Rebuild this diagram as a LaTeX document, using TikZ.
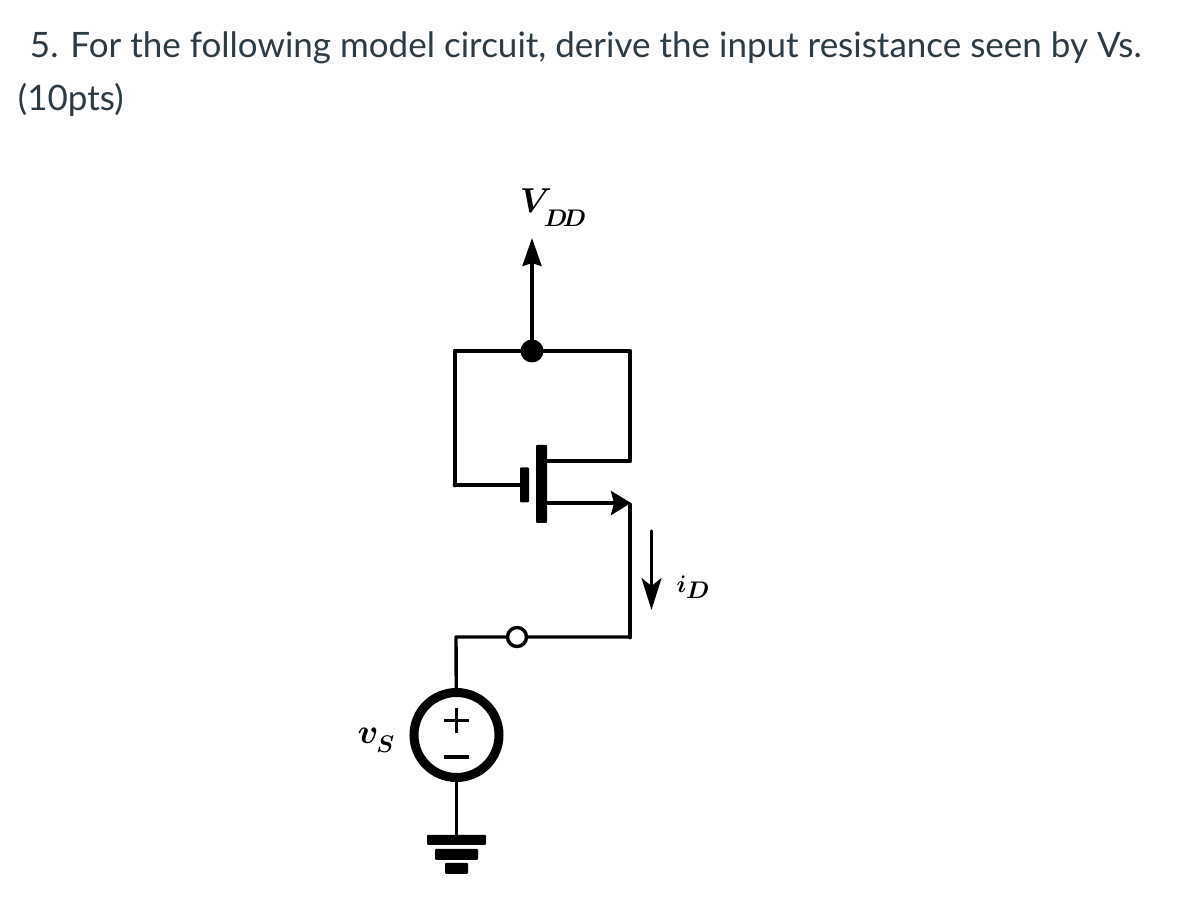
\documentclass[tikz,border=0pt]{standalone}
\usepackage{fontspec}
\setmainfont{Lato}
\usepackage{amsmath}
\usetikzlibrary{arrows.meta}
\definecolor{questioncol}{HTML}{2D3B45}

\begin{document}
\begin{tikzpicture}[x=0.5pt,y=-0.5pt]
	\tikzstyle{every node}=[inner sep=0pt,outer sep=0pt]
	\tikzstyle{wire}=[line width=2.4pt,line cap=round,line join=round]
	\tikzstyle{thin wire}=[line width=1.7pt,line cap=round,line join=round]
	\tikzstyle{plate}=[draw=none,fill=black,rounded corners=0.5pt]
	\tikzstyle{question}=[anchor=base west,font=\fontsize{17.5pt}{22pt}\selectfont,text=questioncol]
	\tikzstyle{big label}=[font=\fontsize{18pt}{20pt}\selectfont]
	\tikzstyle{mid label}=[font=\fontsize{17pt}{19pt}\selectfont]
	\tikzstyle{small label}=[font=\fontsize{12pt}{14pt}\selectfont]
	\useasboundingbox (0,0) rectangle (1191,897);

	\node[question] (line1) at (30,58) {5. For the following model circuit, derive the input resistance seen by Vs.};
	\node[question] (line2) at (18,111) {(10pts)};

	% top rail
	\node[big label] (vdd) at (553,208) {$\boldsymbol{V}$\hspace{-4pt}\raisebox{-7pt}{\fontsize{13pt}{15pt}\selectfont$\boldsymbol{D\!D}$}};
	\coordinate (up) at (532,238);
	\node (dot) at (532,351) [circle,fill=black,minimum size=11.5pt] {};
	\coordinate (railL) at (455,351);
	\coordinate (railR) at (630,351);
	\coordinate (gateL) at (455,485);
	\coordinate (drainR) at (630,461);

	% transistor
	\node (gate) at (524.5,485) [plate,minimum width=4.5pt,minimum height=17.5pt] {};
	\node (channel) at (541.5,484) [plate,minimum width=5.5pt,minimum height=39pt] {};
	\coordinate (drain) at (547,461);
	\coordinate (source) at (547,503);
	\coordinate (srcR) at (631,503);
	\coordinate (srcD) at (630,505);

	% output wire
	\coordinate (corner) at (630,637);
	\node (term) at (517,637) [circle,draw,line width=1.7pt,fill=white,minimum size=9.5pt] {};
	\coordinate (cornerL) at (456,637);
	\node (vsrc) at (456.5,735) [circle,draw,line width=4.5pt,minimum size=42.5pt] {};
	\node (plus) at (456,721) {\rule{12.5pt}{1.5pt}};
	\node (pluss) at (456,721) {\rule{1.5pt}{12.5pt}};
	\node (minus) at (456,757) {\rule{12.5pt}{2pt}};
	\node[mid label] (vs) at (376,740) {$\boldsymbol{v}$\hspace{-1pt}\raisebox{-4.5pt}{\fontsize{13pt}{15pt}\selectfont$\boldsymbol{S}$}};

	% ground
	\node (gnd1) at (456.5,840) [plate,minimum width=29.5pt,minimum height=5pt] {};
	\node (gnd2) at (456.5,854.5) [plate,minimum width=21.5pt,minimum height=5.5pt] {};
	\node (gnd3) at (456.5,868.5) [plate,minimum width=11.5pt,minimum height=5.5pt] {};

	% current
	\coordinate (iA) at (651.5,531);
	\coordinate (iB) at (651.5,610);
	\node[small label] (id) at (693,587) {$\boldsymbol{i}$\raisebox{-3pt}{$\boldsymbol{D}$}};

	\draw[thin wire,-{Stealth[length=14pt,width=9.5pt,inset=1.5pt]}] (dot) -- (up);
	\draw[wire] (gateL) -- (railL) -- (dot) -- (railR) -- (drainR) -- (drain);
	\draw[wire] (gateL) -- (gate);
	\draw[thin wire,-{Stealth[length=10pt,width=12pt,inset=1.5pt]}] (source) -- (srcR);
	\draw[wire] (srcD) -- (corner);
	\draw[thin wire] (corner) -- (term) -- (cornerL) -- (vsrc);
	\draw[thin wire] (vsrc) -- (gnd1);
	\draw[thin wire,-{Stealth[length=16pt,width=10pt,inset=4pt]}] (iA) -- (iB);
\end{tikzpicture}
\end{document}
